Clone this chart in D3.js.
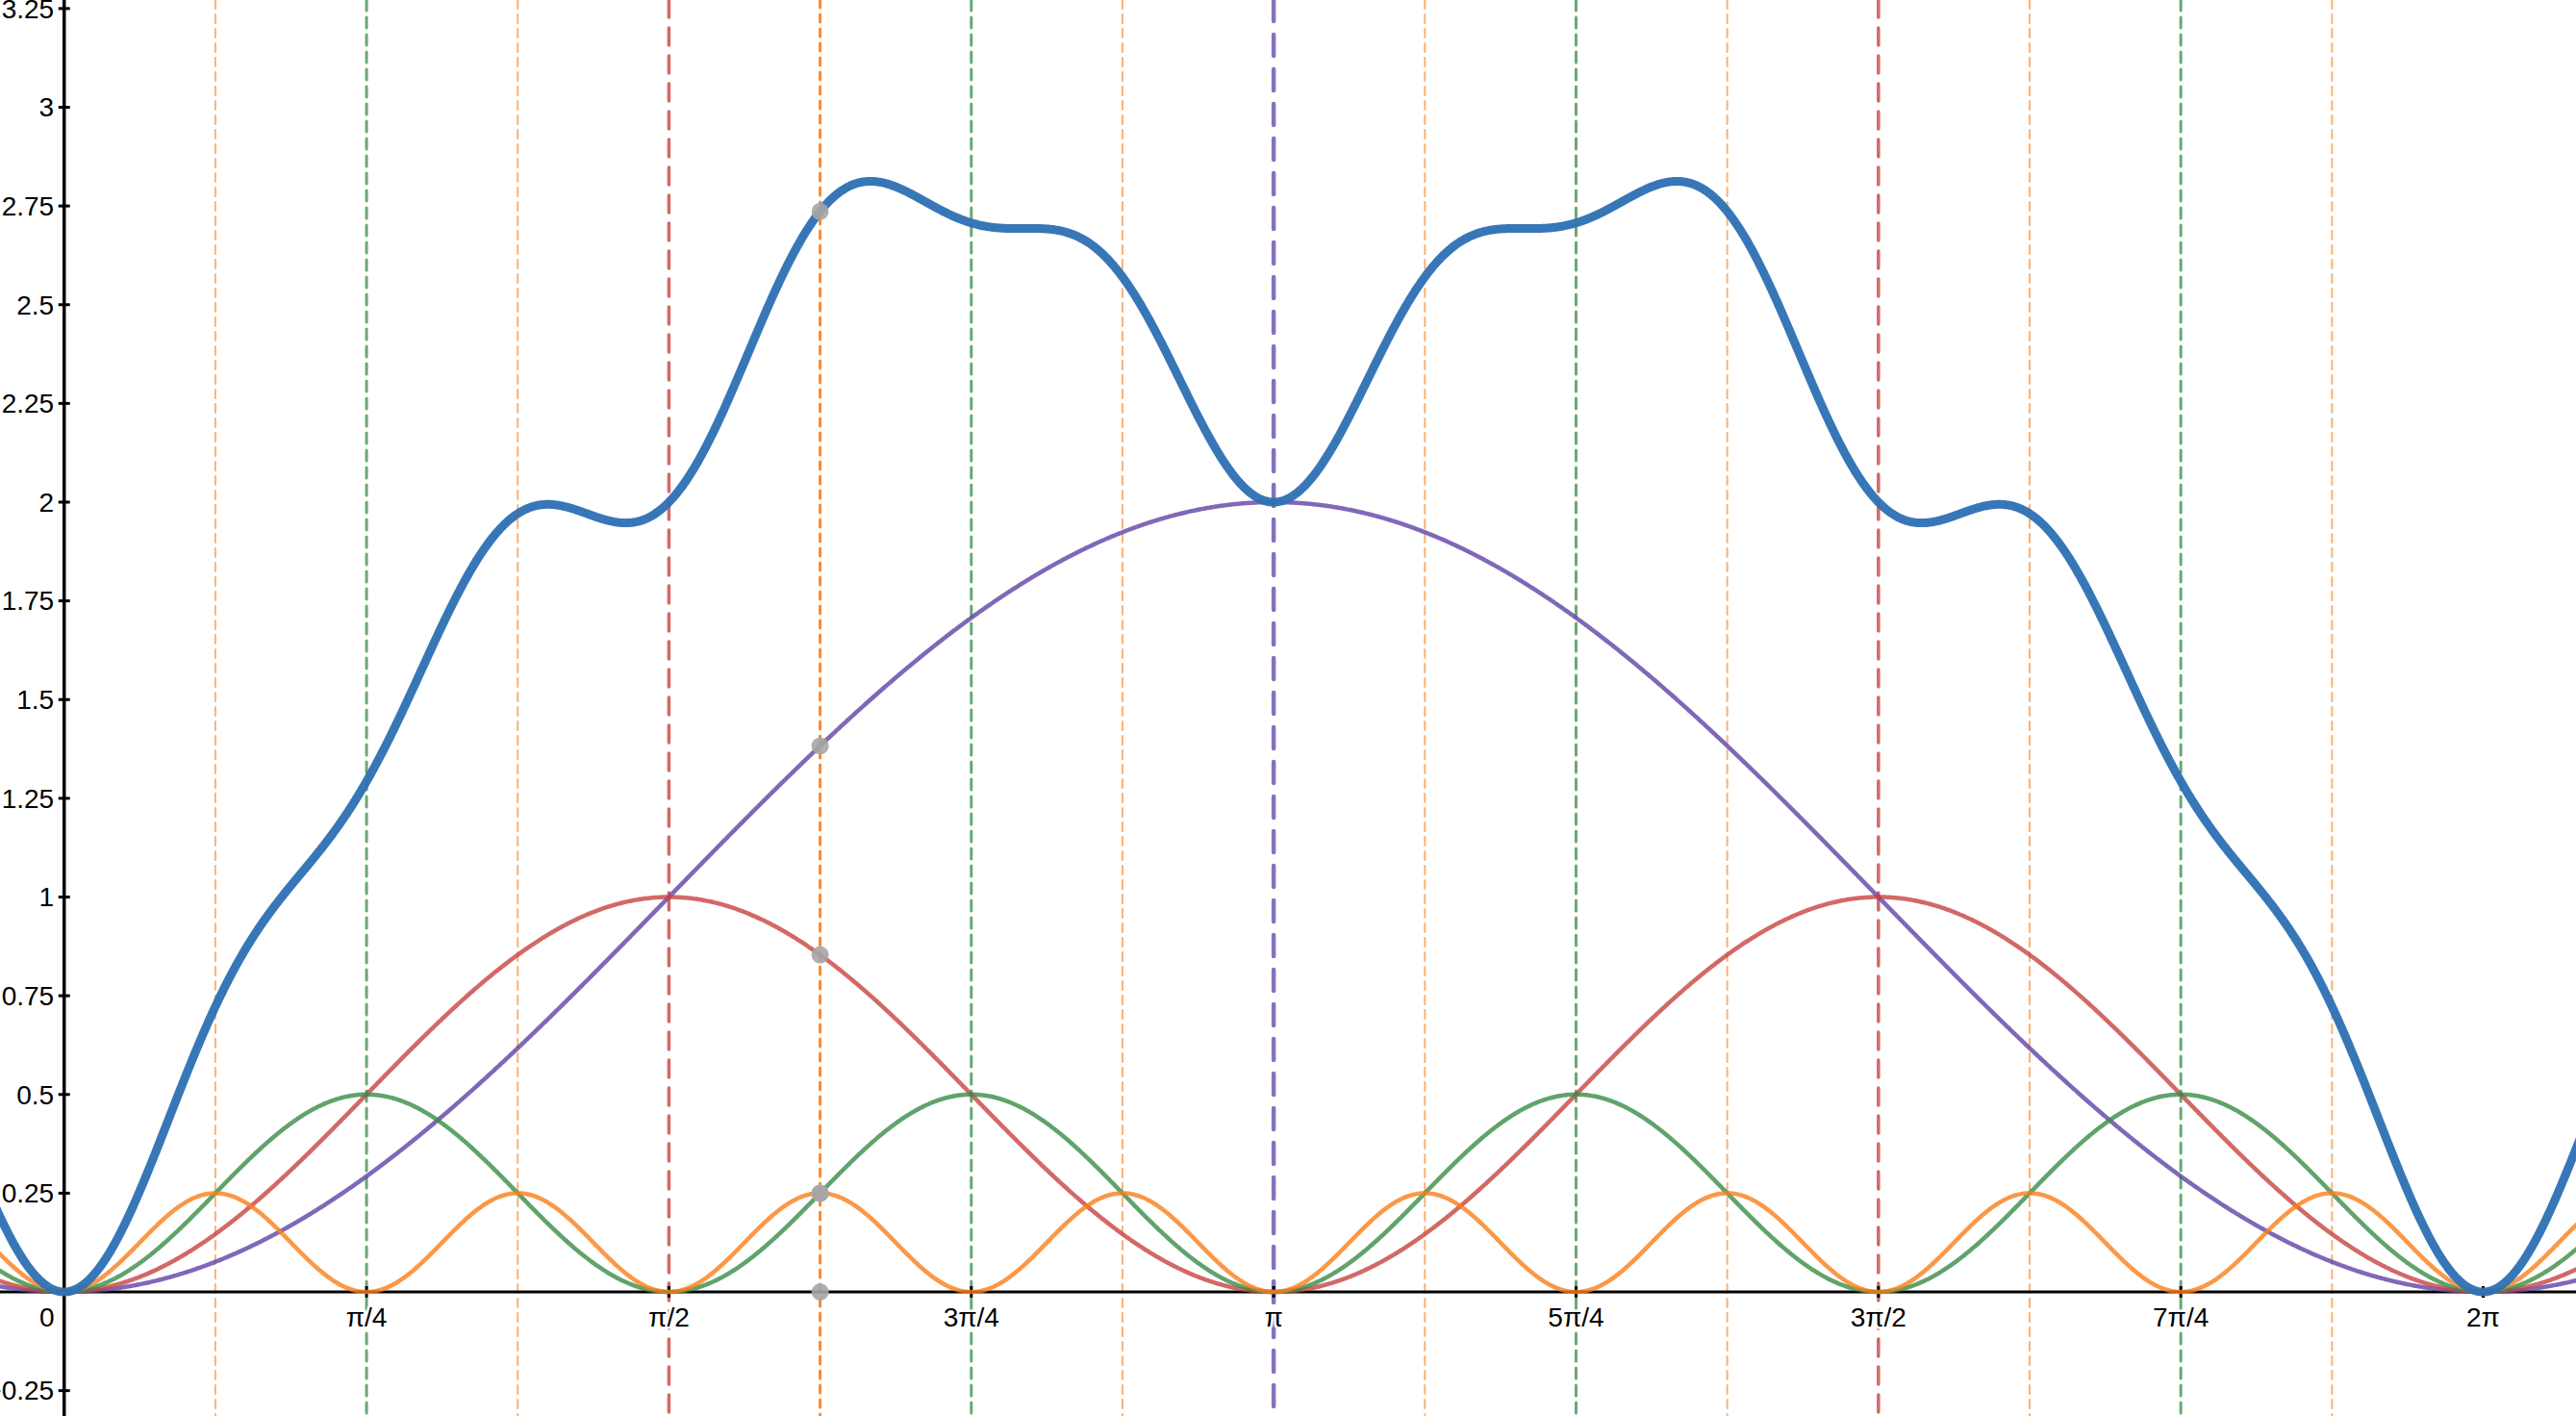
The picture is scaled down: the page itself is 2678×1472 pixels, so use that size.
<!DOCTYPE html>
<html>
<head>
<meta charset="utf-8">
<script src="https://cdn.jsdelivr.net/npm/d3@7"></script>
<style>
  html, body { margin: 0; padding: 0; background: #fff; overflow: hidden; }
  svg { display: block; }
  text { font-family: Arial, "Liberation Sans", sans-serif; }
</style>
</head>
<body>
<svg id="chart" width="2678" height="1472"></svg>
<script>
// ---------- data ----------
const PI = Math.PI;
// component curves: raised-cosine waves, peak height and period
const componentNames = ["purple", "red", "green", "orange"];
const componentPeaks = [2, 1, 0.5, 0.25];
const componentPeriods = [2 * PI, PI, PI / 2, PI / 4];
const componentColors = ["#6042a6", "#c74440", "#388c46", "#fa7e19"];
// sum curve
const sumColor = "#2d70b3";
// highlighted x position (gray dots)
const markerX = 5 * PI / 8;
// x tick values / labels
const xTickValues = [PI / 4, PI / 2, 3 * PI / 4, PI, 5 * PI / 4, 3 * PI / 2, 7 * PI / 4, 2 * PI];
const xTickLabels = ["π/4", "π/2", "3π/4", "π", "5π/4", "3π/2", "7π/4", "2π"];
// y tick values / labels
const yTickValues = [-0.25, 0.25, 0.5, 0.75, 1, 1.25, 1.5, 1.75, 2, 2.25, 2.5, 2.75, 3, 3.25];
const yTickLabels = ["−0.25", "0.25", "0.5", "0.75", "1", "1.25", "1.5", "1.75", "2", "2.25", "2.5", "2.75", "3", "3.25"];
// dashed vertical guides
const guideOrangeThin = [PI / 8, 3 * PI / 8, 7 * PI / 8, 9 * PI / 8, 11 * PI / 8, 13 * PI / 8, 15 * PI / 8];
const guideGreen = [PI / 4, 3 * PI / 4, 5 * PI / 4, 7 * PI / 4];
const guideRed = [PI / 2, 3 * PI / 2];
const guidePurple = [PI];
const guideOrangeThick = [markerX];

// ---------- scales ----------
const W = 2678, H = 1472;
const x = d3.scaleLinear().domain([0, 2 * PI]).range([66.7, 2581.5]);
const y = d3.scaleLinear().domain([0, 3]).range([1343, 111.5]);

const svg = d3.select("#chart");

function comp(i, t) {
  return componentPeaks[i] * (1 - Math.cos(2 * PI * t / componentPeriods[i])) / 2;
}
function sum(t) {
  let s = 0;
  for (let i = 0; i < componentPeaks.length; i++) s += comp(i, t);
  return s;
}

// sample positions across the visible domain
const x0 = x.invert(-20), x1 = x.invert(W + 20);
const N = 2400;
const ts = d3.range(N + 1).map(k => x0 + (x1 - x0) * k / N);

// ---------- vertical dashed guides ----------
function guides(vals, color, width, dash, opacity) {
  svg.append("g").selectAll("line").data(vals).join("line")
    .attr("x1", d => x(d)).attr("x2", d => x(d))
    .attr("y1", 0).attr("y2", H)
    .attr("stroke", color).attr("stroke-width", width)
    .attr("stroke-dasharray", dash).attr("stroke-linecap", "round")
    .attr("opacity", opacity);
}
guides(guideOrangeThin, "#fa7e19", 2, "9 6", 0.6);
guides(guideGreen, "#388c46", 3, "11 7", 0.75);
guides(guideRed, "#c74440", 3.5, "18 11", 0.8);
guides(guidePurple, "#6042a6", 4.5, "22 14", 0.75);
guides(guideOrangeThick, "#fa7e19", 3, "8 7", 0.9);

// ---------- axes ----------
const axes = svg.append("g");
axes.append("line").attr("x1", 0).attr("x2", W).attr("y1", y(0)).attr("y2", y(0))
  .attr("stroke", "#000").attr("stroke-width", 3);
axes.append("line").attr("x1", x(0)).attr("x2", x(0)).attr("y1", 0).attr("y2", H)
  .attr("stroke", "#000").attr("stroke-width", 3.5);
// y ticks
axes.append("g").selectAll("line").data(yTickValues).join("line")
  .attr("x1", x(0) - 6).attr("x2", x(0) + 6)
  .attr("y1", d => y(d)).attr("y2", d => y(d))
  .attr("stroke", "#000").attr("stroke-width", 3);
// x ticks
axes.append("g").selectAll("line").data(xTickValues).join("line")
  .attr("x1", d => x(d)).attr("x2", d => x(d))
  .attr("y1", y(0) - 6).attr("y2", y(0) + 6)
  .attr("stroke", "#000").attr("stroke-width", 3);

// ---------- curves ----------
const line = d3.line().x(d => x(d[0])).y(d => y(d[1])).curve(d3.curveLinear);
const curveOrder = [0, 1, 2, 3];
curveOrder.forEach(i => {
  svg.append("path")
    .datum(ts.map(t => [t, comp(i, t)]))
    .attr("d", line)
    .attr("fill", "none")
    .attr("stroke", componentColors[i])
    .attr("stroke-width", 4.5)
    .attr("stroke-linejoin", "round")
    .attr("opacity", 0.8);
});
svg.append("path")
  .datum(ts.map(t => [t, sum(t)]))
  .attr("d", line)
  .attr("fill", "none")
  .attr("stroke", sumColor)
  .attr("stroke-width", 9)
  .attr("stroke-linejoin", "round")
  .attr("opacity", 0.95);

// ---------- gray marker dots ----------
const dotVals = [sum(markerX)].concat(componentPeaks.map((_, i) => comp(i, markerX))).concat([0]);
svg.append("g").selectAll("circle").data(dotVals).join("circle")
  .attr("cx", x(markerX)).attr("cy", d => y(d)).attr("r", 9)
  .attr("fill", "#a6a6a6").attr("opacity", 0.9);

// ---------- labels ----------
const fs = 28;
function label(g) {
  return g.attr("font-size", fs).attr("fill", "#000")
    .attr("stroke", "#fff").attr("stroke-width", 5).attr("paint-order", "stroke")
    .attr("stroke-linejoin", "round");
}
const xl = svg.append("g");
xl.selectAll("text").data(xTickValues).join("text")
  .attr("x", d => x(d)).attr("y", y(0) + 36)
  .attr("text-anchor", "middle")
  .text((d, i) => xTickLabels[i])
  .call(label);
svg.append("text").attr("x", x(0) - 10).attr("y", y(0) + 36)
  .attr("text-anchor", "end").text("0").call(label);
const yl = svg.append("g");
yl.selectAll("text").data(yTickValues).join("text")
  .attr("x", x(0) - 10.5).attr("y", d => y(d))
  .attr("dy", "0.35em")
  .attr("text-anchor", "end")
  .text((d, i) => yTickLabels[i])
  .call(label);
</script>
</body>
</html>
